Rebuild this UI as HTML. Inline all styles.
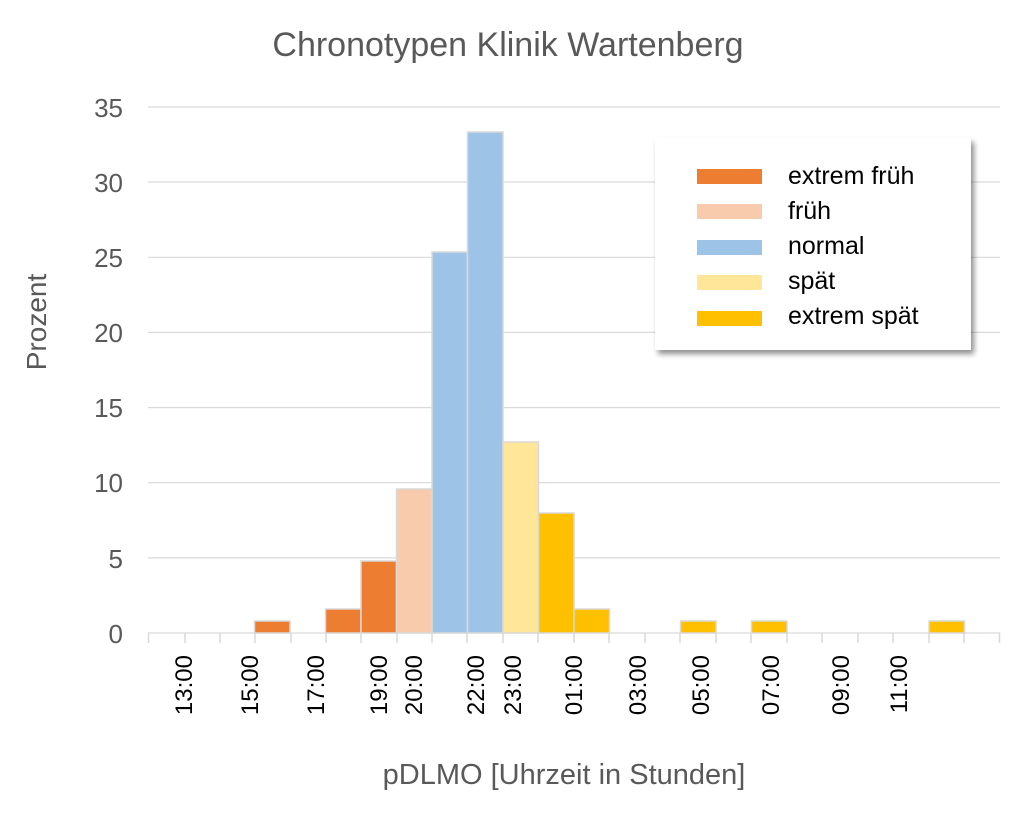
<!DOCTYPE html>
<html><head><meta charset="utf-8"><style>body{margin:0;background:#fff}svg{display:block;font-family:"Liberation Sans",sans-serif}</style></head>
<body>
<svg width="1024" height="814" viewBox="0 0 1024 814">
<defs><filter id="sh" x="-10%" y="-10%" width="130%" height="130%"><feGaussianBlur in="SourceAlpha" stdDeviation="3"/><feOffset dx="3" dy="4"/><feComponentTransfer><feFuncA type="linear" slope="0.45"/></feComponentTransfer><feMerge><feMergeNode/><feMergeNode in="SourceGraphic"/></feMerge></filter></defs>
<rect width="1024" height="814" fill="#fff"/>
<text x="508" y="56" font-size="34" fill="#595959" text-anchor="middle">Chronotypen Klinik Wartenberg</text>
<g stroke="#d9d9d9" stroke-width="1.2">
<line x1="148" x2="1000" y1="107" y2="107"/><line x1="148" x2="1000" y1="182" y2="182"/>
<line x1="148" x2="1000" y1="257.3" y2="257.3"/><line x1="148" x2="1000" y1="332.4" y2="332.4"/>
<line x1="148" x2="1000" y1="407.6" y2="407.6"/><line x1="148" x2="1000" y1="482.7" y2="482.7"/>
<line x1="148" x2="1000" y1="557.9" y2="557.9"/><line x1="148" x2="1000" y1="633" y2="633"/>
</g>
<g font-size="26" fill="#595959" text-anchor="end">
<text x="123" y="117">35</text><text x="123" y="192">30</text><text x="123" y="267">25</text><text x="123" y="342">20</text><text x="123" y="417">15</text><text x="123" y="492">10</text><text x="123" y="568">5</text><text x="123" y="643">0</text>
</g>
<text transform="translate(46,322) rotate(-90)" font-size="28" fill="#595959" text-anchor="middle">Prozent</text>
<g stroke="#d9d9d9" stroke-width="1.5">
<rect x="254.5" y="621" width="35.5" height="12" fill="#ed7d31"/>
<rect x="325.5" y="609" width="35.5" height="24" fill="#ed7d31"/>
<rect x="361" y="561" width="35.5" height="72" fill="#ed7d31"/>
<rect x="396.5" y="489" width="35.5" height="144" fill="#f8cbad"/>
<rect x="432" y="252" width="35.5" height="381" fill="#9dc3e6"/>
<rect x="467.5" y="132" width="35.5" height="501" fill="#9dc3e6"/>
<rect x="503" y="442" width="35.5" height="191" fill="#ffe699"/>
<rect x="538.5" y="513" width="35.5" height="120" fill="#ffc000"/>
<rect x="574" y="609" width="35.5" height="24" fill="#ffc000"/>
<rect x="680.5" y="621" width="35.5" height="12" fill="#ffc000"/>
<rect x="751.5" y="621" width="35.5" height="12" fill="#ffc000"/>
<rect x="929" y="621" width="35.5" height="12" fill="#ffc000"/>
</g>
<g font-size="24" fill="#000" text-anchor="end">
<text transform="translate(192,655) rotate(-90)">13:00</text>
<text transform="translate(258,655) rotate(-90)">15:00</text>
<text transform="translate(324,655) rotate(-90)">17:00</text>
<text transform="translate(387,655) rotate(-90)">19:00</text>
<text transform="translate(422,655) rotate(-90)">20:00</text>
<text transform="translate(484,655) rotate(-90)">22:00</text>
<text transform="translate(521,655) rotate(-90)">23:00</text>
<text transform="translate(582,655) rotate(-90)">01:00</text>
<text transform="translate(646,655) rotate(-90)">03:00</text>
<text transform="translate(709,655) rotate(-90)">05:00</text>
<text transform="translate(779,655) rotate(-90)">07:00</text>
<text transform="translate(849,655) rotate(-90)">09:00</text>
<text transform="translate(907,655) rotate(-90)">11:00</text>
</g>
<text x="564" y="784" font-size="29" fill="#595959" text-anchor="middle">pDLMO [Uhrzeit in Stunden]</text>
<rect x="655" y="138" width="316" height="212" fill="#fff" filter="url(#sh)"/>
<g>
<rect x="697" y="169" width="65" height="15" fill="#ed7d31"/>
<rect x="697" y="204" width="65" height="15" fill="#f8cbad"/>
<rect x="697" y="240" width="65" height="15" fill="#9dc3e6"/>
<rect x="697" y="275" width="65" height="15" fill="#ffe699"/>
<rect x="697" y="311" width="65" height="15" fill="#ffc000"/>
</g>
<g font-size="25" fill="#000">
<text x="788" y="184">extrem früh</text><text x="788" y="219">früh</text><text x="788" y="254">normal</text><text x="788" y="289">spät</text><text x="788" y="324">extrem spät</text>
</g>
<g stroke="#d9d9d9" stroke-width="1.5">
<line x1="148.5" x2="148.5" y1="633" y2="643"/><line x1="185" x2="185" y1="633" y2="643"/><line x1="220" x2="220" y1="633" y2="643"/><line x1="255" x2="255" y1="633" y2="643"/><line x1="291" x2="291" y1="633" y2="643"/><line x1="326" x2="326" y1="633" y2="643"/><line x1="361" x2="361" y1="633" y2="643"/><line x1="397" x2="397" y1="633" y2="643"/><line x1="432" x2="432" y1="633" y2="643"/><line x1="467" x2="467" y1="633" y2="643"/><line x1="503" x2="503" y1="633" y2="643"/><line x1="538" x2="538" y1="633" y2="643"/><line x1="574" x2="574" y1="633" y2="643"/><line x1="609" x2="609" y1="633" y2="643"/><line x1="645" x2="645" y1="633" y2="643"/><line x1="680" x2="680" y1="633" y2="643"/><line x1="716" x2="716" y1="633" y2="643"/><line x1="751" x2="751" y1="633" y2="643"/><line x1="787" x2="787" y1="633" y2="643"/><line x1="822" x2="822" y1="633" y2="643"/><line x1="858" x2="858" y1="633" y2="643"/><line x1="893" x2="893" y1="633" y2="643"/><line x1="929" x2="929" y1="633" y2="643"/><line x1="964" x2="964" y1="633" y2="643"/><line x1="999.5" x2="999.5" y1="633" y2="643"/>
</g>
</svg>
</body></html>
